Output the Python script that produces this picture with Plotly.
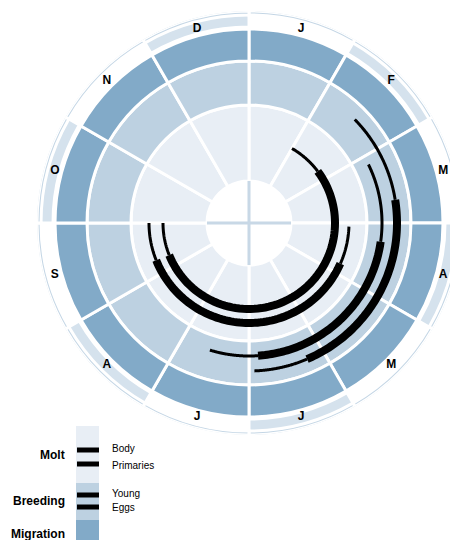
import numpy as np
import plotly.graph_objects as go

months = ["J", "F", "M", "A", "M", "J", "J", "A", "S", "O", "N", "D"]
outer_filled = [0, 1, 0, 1, 0, 1, 0, 1, 0, 1, 0, 1]

# phases in months from Jan 1 (start, end, kind)
body = [(1.0, 1.77, "thin"), (1.77, 8.27, "thick"), (8.27, 9.0, "thin")]
primaries = [(3.07, 3.8, "thin"), (3.8, 8.27, "thick"), (8.27, 9.0, "thin")]
young = [(2.13, 3.27, "thin"), (3.27, 5.87, "thick"), (5.87, 6.57, "thin")]
eggs = [(1.52, 2.7, "thin"), (2.7, 5.23, "thick"), (5.23, 5.93, "thin")]
series_names = ["Body", "Primaries", "Young", "Eggs"]
series = [body, primaries, young, eggs]
radii = [86, 100, 133, 148]

theta_c = [15 + 30 * i for i in range(12)]
fig = go.Figure()

def ring(base, height, color, which=None):
    th = [t for t, f in zip(theta_c, which or [1] * 12) if f]
    fig.add_trace(go.Barpolar(theta=th, r=[height] * len(th), base=[base] * len(th), width=[30] * len(th),
                              marker=dict(color=color, line=dict(color="white", width=3)),
                              showlegend=False, hoverinfo="skip"))

ring(42, 76, "#e8eef5")
ring(118, 44, "#bdd1e1")
ring(162, 32, "#82aac8")
ring(196, 16, "#d5e2ed", outer_filled)
ring(208, 4, "#c4d6e5")

for a in [0, 90, 180, 270]:
    fig.add_trace(go.Scatterpolar(r=[0, 42], theta=[a, a], mode="lines",
                                  line=dict(color="#c8d8e6", width=3), showlegend=False, hoverinfo="skip"))

for segs, rad in zip(series, radii):
    for s, e, kind in segs:
        th = np.linspace(s * 30, e * 30, 80)
        fig.add_trace(go.Scatterpolar(r=[rad] * len(th), theta=th, mode="lines",
                                      line=dict(color="black", width=8 if kind == "thick" else 3),
                                      showlegend=False, hoverinfo="skip"))

fig.add_trace(go.Scatterpolar(r=[201] * 12, theta=theta_c, mode="text", text=months,
                              textfont=dict(family="Liberation Sans", size=12, color="black"),
                              texttemplate="<b>%{text}</b>", showlegend=False, hoverinfo="skip"))

W, H = 458, 540
cx, cy, R = 241, 215, 212
fig.update_layout(
    width=W, height=H, margin=dict(l=0, r=0, t=0, b=0), paper_bgcolor="white",
    polar=dict(domain=dict(x=[(cx - R) / W, (cx + R) / W], y=[(H - cy - R) / H, (H - cy + R) / H]),
               bgcolor="rgba(0,0,0,0)", barmode="overlay",
               radialaxis=dict(visible=False, range=[0, R]),
               angularaxis=dict(visible=False, rotation=90, direction="clockwise")),
)

def py(y):
    return 1 - y / H

shapes = []
for y0, y1, col in [(418, 475, "#e8eef5"), (475, 512, "#bdd1e1"), (512, 540, "#82aac8")]:
    shapes.append(dict(type="rect", xref="paper", yref="paper", x0=68 / W, x1=91 / W, y0=py(y1), y1=py(y0),
                       fillcolor=col, line=dict(width=0), layer="below"))
for y in [442, 456, 487, 499]:
    shapes.append(dict(type="rect", xref="paper", yref="paper", x0=69 / W, x1=91 / W, y0=py(y + 2.5), y1=py(y - 2.5),
                       fillcolor="black", line=dict(width=0)))
fig.update_layout(shapes=shapes)

ann = []
for txt, y in [("Molt", 447), ("Breeding", 493), ("Migration", 526)]:
    ann.append(dict(text="<b>" + txt + "</b>", x=59 / W, y=py(y), xref="paper", yref="paper", xanchor="right",
                    yanchor="middle", showarrow=False, font=dict(family="Liberation Sans", size=12, color="black")))
for txt, y in zip(series_names, [440, 457, 485, 499]):
    ann.append(dict(text=txt, x=102 / W, y=py(y), xref="paper", yref="paper", xanchor="left",
                    yanchor="middle", showarrow=False, font=dict(family="Liberation Sans", size=10, color="black")))
fig.update_layout(annotations=ann)

fig.write_html("out.html")
